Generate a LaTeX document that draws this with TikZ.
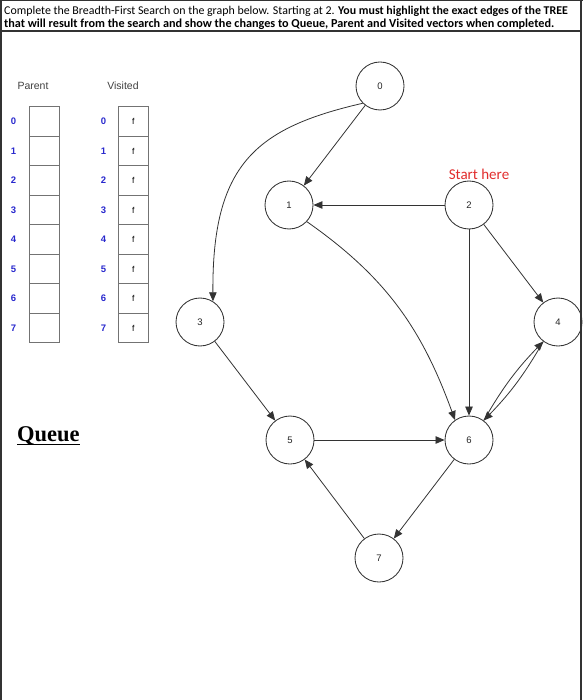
\documentclass[tikz,border=0pt]{standalone}
\usepackage{fontspec}
\setmainfont{Liberation Sans}
\newfontfamily\calib{Carlito}
\newfontfamily\tnr{Liberation Serif}
\usetikzlibrary{arrows.meta}
\definecolor{startred}{RGB}{225,45,45}
\definecolor{idxblue}{RGB}{40,40,205}
\begin{document}
\begin{tikzpicture}[x=1pt,y=-1pt,
  vert/.style={circle, draw=black!80, line width=0.85pt, minimum size=48pt, inner sep=0pt, font=\fontsize{9.5}{10}\selectfont, text=black!85},
  edge/.style={draw=black!80, line width=0.8pt, -{Triangle[length=9pt,width=7.5pt]}},
  cell/.style={rectangle, draw=black!55, line width=0.7pt, minimum width=30pt, minimum height=29.5pt, inner sep=0pt, font=\fontsize{8.5}{9}\selectfont},
  idx/.style={inner sep=0pt, text=idxblue, font=\bfseries\fontsize{9.5}{10}\selectfont},
  colhead/.style={inner sep=0pt, text=black!75, font=\fontsize{10.5}{12}\selectfont},
  frame/.style={draw=black!80, line width=1.2pt}
]
\useasboundingbox (0,0) rectangle (583,700);
% frame and header box
\draw[frame] (1,0) -- (1,700);
\draw[frame] (581,0) -- (581,700);
\draw[frame] (0,0.6) -- (583,0.6);
\draw[frame] (1,31) -- (581,31);
\node[anchor=base west, inner sep=0pt] (h1) at (4,14.5) {\calib\fontsize{11.9}{14}\selectfont Complete the Breadth-First Search on the graph below. Starting at 2. \textbf{You must highlight the exact edges of the TREE}};
\node[anchor=base west, inner sep=0pt] (h2) at (4,27.5) {\calib\fontsize{12.2}{14}\selectfont\bfseries that will result from the search and show the changes to Queue, Parent and Visited vectors when completed.};
% table headers
\node[colhead] (ph) at (33,86) {Parent};
\node[colhead] (vh) at (123,86) {Visited};
% cells
\foreach \i in {0,...,7} {
  \node[cell] (p\i) at (44,121.45+29.5*\i) {};
  \node[cell] (v\i) at (133.3,121.45+29.5*\i) {f};
  \node[idx] (pi\i) at (13.5,121.45+29.5*\i) {\i};
  \node[idx] (vi\i) at (103.5,121.45+29.5*\i) {\i};
}
% queue
\node[anchor=base west, inner sep=0pt] (q) at (17,441.7) {\tnr\bfseries\fontsize{22.5}{26}\selectfont Queue};
\draw[line width=1.3pt] ([yshift=-2.6pt]q.base west) -- ([yshift=-2.6pt]q.base east);
% graph nodes
\node[vert] (n0) at (380,86) {0};
\node[vert] (n1) at (289,205) {1};
\node[vert] (n2) at (469,205) {2};
\node[vert] (n3) at (200,322) {3};
\node[vert] (n4) at (558,322) {4};
\node[vert] (n5) at (290,440) {5};
\node[vert] (n6) at (469,440) {6};
\node[vert] (n7) at (379,558) {7};
\node[inner sep=0pt, text=startred] (st) at (479,174) {\calib\fontsize{15}{18}\selectfont Start here};
% edges
\draw[edge] (n0) -- (n1);
\draw[edge] (n0.225) .. controls (255,128) and (212,165) .. (n3.58);
\draw[edge] (n2) -- (n1);
\draw[edge] (n2) -- (n6);
\draw[edge] (n2) -- (n4);
\draw[edge] (n1.-43) to[out=-35, in=110] (n6.125);
\draw[edge] (n4.233) to[bend left=7] (n6.53);
\draw[edge] (n6.53) to[bend left=7] (n4.233);
\draw[edge] (n3) -- (n5);
\draw[edge] (n5) -- (n6);
\draw[edge] (n6) -- (n7);
\draw[edge] (n7) -- (n5);
\end{tikzpicture}
\end{document}
